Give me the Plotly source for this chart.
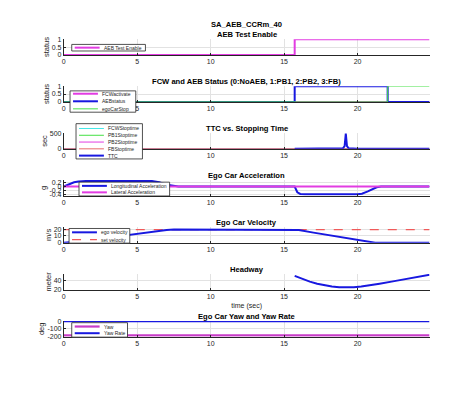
import plotly.graph_objects as go

W, H = 474, 395
OFF = 8  # page body margin of the html page

# ---------------- data ----------------
x_ticks = [0, 5, 10, 15, 20]
x_ticklabels = ["0", "5", "10", "15", "20"]
t_end = 24.9

# AEB test enable
t_enable = [0, 15.72, 15.72, 24.9]
aeb_enable = [0, 0, 1, 1]

# FCW / AEB status
t_status = [0, 15.72, 15.72, 22.05, 22.05, 24.9]
fcw_activate = [0, 0, 0, 0, 0, 0]
aeb_status = [0, 0, 1, 1, 0, 0]
t_carstop = [0, 22.05, 22.05, 24.9]
ego_car_stop = [0, 0, 1, 1]

# TTC vs stopping time
t_stoptime = [0, 5, 10, 15.72, 20, 24.9]
fcw_stoptime = [0.0, 2.4, 3.4, 3.4, 1.0, 0.0]
pb1_stoptime = [0.0, 1.8, 2.6, 2.6, 0.8, 0.0]
pb2_stoptime = [0.0, 1.4, 2.0, 2.0, 0.6, 0.0]
fb_stoptime = [0.0, 1.0, 1.4, 1.4, 0.4, 0.0]
t_ttc = [15.72, 16.5, 17.5, 18.5, 19.0, 19.12, 19.2, 19.28, 19.4, 20.0, 21.0, 22.0, 23.0, 24.9]
ttc = [3.5, 3.3, 3.6, 6.0, 18.0, 90.0, 500.0, 90.0, 18.0, 6.0, 3.0, 2.0, 1.5, 1.0]

# Ego car acceleration (g)
t_acc = [0, 0.3, 0.7, 1.0, 1.5, 6.0, 6.5, 7.0, 7.4, 7.8, 15.72, 15.8, 15.9, 16.1, 16.4,
         20.0, 20.3, 20.7, 21.0, 21.3, 21.6, 24.9]
long_acc = [0, 0.1, 0.2, 0.24, 0.26, 0.26, 0.2, 0.09, 0.03, 0, 0, -0.12, -0.28, -0.36, -0.38,
            -0.38, -0.35, -0.24, -0.12, -0.04, 0, 0]
t_lat = [0, 24.9]
lat_acc = [0, 0]

# Ego car velocity (m/s)
t_vel = [0, 0.5, 1, 2, 3, 4, 5, 6, 6.5, 7, 7.5, 15.72, 16, 17, 18, 19, 20, 20.5, 20.9, 21.2, 24.9]
ego_vel = [0, 0.6, 1.8, 4.6, 7.5, 10.4, 13.3, 16.2, 17.8, 18.9, 19.44, 19.44, 18.8, 15.0, 11.2,
           7.4, 3.6, 1.6, 0.4, 0, 0]
t_set = [0, 24.9]
set_vel = [19.44, 19.44]

# Headway (m)
t_head = [15.72, 16.25, 16.75, 17.25, 17.75, 18.25, 18.75, 19.25, 19.75, 20.25, 20.75,
          21.5, 22.5, 23.5, 24.9]
headway = [49.0, 42.5, 37.0, 32.5, 29.0, 26.5, 25.0, 24.5, 25.0, 26.5, 28.5, 32.5, 38.0,
           43.5, 51.3]

# Yaw and yaw rate (deg)
t_yaw = [0, 24.9]
yaw = [-183, -183]
yaw_rate = [0, 0]

# ---------------- styling ----------------
MAG = "#e23ce2"
BLUE = "#1818e0"
GREEN = "#44e044"
CYAN = "#44e8e8"
SALMON = "#e86a6a"
RED = "#f05a5a"
YAWMAG = "#c83cc8"
AXC = "#262626"
GRID = "#e2e2e2"
FONT = "Liberation Sans, Arial, sans-serif"

tops = [35.7, 83.5, 131.3, 179.1, 226.9, 274.7, 322.5]
AX_H = 16
X0, X1 = 62.0, 429.3


def px(x):
    return (x - OFF) / W


def py(y):
    return 1 - (y - OFF) / H


titles = ["AEB Test Enable", "FCW and AEB Status (0:NoAEB, 1:PB1, 2:PB2, 3:FB)",
          "TTC vs. Stopping Time", "Ego Car Acceleration", "Ego Car Velocity",
          "Headway", "Ego Car Yaw and Yaw Rate"]
ylabels = ["status", "status", "sec", "g", "m/s", "meter", "deg"]
yranges = [[0, 1], [0, 1], [0, 520], [-0.45, 0.31], [0, 23.3], [20, 53], [-200, 3]]
ytickvals = [[0, 0.5, 1], [0, 0.5, 1], [0, 500], [-0.4, -0.2, 0, 0.2], [0, 10, 20],
             [20, 40], [-200, -100, 0]]
yticktext = [["0", "0.5", "1"], ["0", "0.5", "1"], ["0", "500"],
             ["-0.4", "-0.2", "0", "0.2"], ["0", "10", "20"], ["20", "40"],
             ["-200", "-100", "0"]]

fig = go.Figure()

# (axis index, x, y, name, color, width, dash)
series = [
    (1, t_enable, aeb_enable, "AEB Test Enable", MAG, 2, "solid"),
    (2, t_status, fcw_activate, "FCWactivate", MAG, 2, "solid"),
    (2, t_status, aeb_status, "AEBstatus", BLUE, 2, "solid"),
    (2, t_carstop, ego_car_stop, "egoCarStop", GREEN, 1, "solid"),
    (3, t_stoptime, fcw_stoptime, "FCWStoptime", CYAN, 1, "solid"),
    (3, t_stoptime, pb1_stoptime, "PB1Stoptime", GREEN, 1, "solid"),
    (3, t_stoptime, pb2_stoptime, "PB2Stoptime", MAG, 1, "solid"),
    (3, t_stoptime, fb_stoptime, "FBStoptime", SALMON, 1, "solid"),
    (3, t_ttc, ttc, "TTC", BLUE, 2, "solid"),
    (4, t_acc, long_acc, "Longitudinal Acceleration", BLUE, 2, "solid"),
    (4, t_lat, lat_acc, "Lateral Acceleration", MAG, 2, "solid"),
    (5, t_set, set_vel, "set velocity", RED, 1.2, "dash"),
    (5, t_vel, ego_vel, "ego velocity", BLUE, 2, "solid"),
    (6, t_head, headway, "headway", BLUE, 2, "solid"),
    (7, t_yaw, yaw, "Yaw", YAWMAG, 2.2, "solid"),
    (7, t_yaw, yaw_rate, "Yaw Rate", BLUE, 2, "solid"),
]

for ax, xs, ys, name, col, wd, dash in series:
    sfx = "" if ax == 1 else str(ax)
    fig.add_trace(go.Scatter(x=xs, y=ys, mode="lines", name=name,
                             line=dict(color=col, width=wd, dash=dash),
                             xaxis="x" + sfx, yaxis="y" + sfx, showlegend=False))

layout = dict(width=W, height=H, margin=dict(l=0, r=0, t=0, b=0),
              paper_bgcolor="white", plot_bgcolor="white", showlegend=False,
              font=dict(family=FONT, color=AXC))

for i in range(7):
    k = "" if i == 0 else str(i + 1)
    top = tops[i]
    layout["xaxis" + k] = dict(
        domain=[px(X0), px(X1)], range=[0, t_end], anchor="y" + k,
        tickvals=x_ticks, ticktext=x_ticklabels, ticks="inside", ticklen=2,
        tickcolor=AXC, tickwidth=0.7,
        showline=True, linecolor=AXC, linewidth=0.8, showgrid=True,
        gridcolor=GRID, gridwidth=0.8, zeroline=False,
        tickfont=dict(size=7, color=AXC, family=FONT))
    layout["yaxis" + k] = dict(
        domain=[py(top + AX_H), py(top)], range=yranges[i], anchor="x" + k,
        tickvals=ytickvals[i], ticktext=yticktext[i], ticks="inside", ticklen=2,
        tickcolor=AXC, tickwidth=0.7,
        showline=True, linecolor=AXC, linewidth=0.8, showgrid=True,
        gridcolor=GRID, gridwidth=0.8, zeroline=False,
        tickfont=dict(size=7, color=AXC, family=FONT),
        title=dict(text=ylabels[i], font=dict(size=7.5, color=AXC, family=FONT),
                   standoff=1))

layout["xaxis6"]["title"] = dict(text="time (sec)", font=dict(size=7, color=AXC, family=FONT),
                                 standoff=4)
fig.update_layout(**layout)

# titles
fig.add_annotation(text="<b>SA_AEB_CCRm_40</b>", x=px((X0 + X1) / 2), y=py(21),
                   xref="paper", yref="paper", showarrow=False, xanchor="center",
                   yanchor="middle", font=dict(size=7.6, color="black", family=FONT))
for i, ttl in enumerate(titles):
    fig.add_annotation(text="<b>" + ttl + "</b>", x=px((X0 + X1) / 2), y=py(tops[i] - 4.8),
                       xref="paper", yref="paper", showarrow=False, xanchor="center",
                       yanchor="middle", font=dict(size=7.6, color="black", family=FONT))

# legends (box in px: x0, y0, x1, y1 ; row centres)
legend_specs = [
    ((70, 41, 144, 47.7), [44.3], ["AEB Test Enable"]),
    ((68.3, 88.3, 134.3, 110), [91.2, 98.9, 106.6], ["FCWactivate", "AEBstatus", "egoCarStop"]),
    ((74.3, 121.7, 141, 157.6), [126.6, 133.5, 140.4, 147.3, 154.2],
     ["FCWStoptime", "PB1Stoptime", "PB2Stoptime", "FBStoptime", "TTC"]),
    ((77.3, 181.2, 168.3, 195.3), [185.0, 191.6], ["Longitudinal Acceleration", "Lateral Acceleration"]),
    ((67.3, 228.4, 128.3, 243.3), [232.3, 239.8], ["ego velocity", "set velocity"]),
    ((70, 324.3, 126, 339), [328.2, 335.0], ["Yaw", "Yaw Rate"]),
]
style = {s[3]: (s[4], s[5], s[6]) for s in series}

for (bx0, by0, bx1, by1), rows, names in legend_specs:
    fig.add_shape(type="rect", xref="paper", yref="paper", x0=px(bx0), x1=px(bx1),
                  y0=py(by1), y1=py(by0), line=dict(color=AXC, width=0.8),
                  fillcolor="white", layer="above")
    for nm, yr in zip(names, rows):
        col, wd, dash = style[nm]
        fig.add_shape(type="line", xref="paper", yref="paper", x0=px(bx0 + 3), x1=px(bx0 + 28),
                      y0=py(yr), y1=py(yr), line=dict(color=col, width=wd, dash=dash),
                      layer="above")
        fig.add_annotation(text=nm, x=px(bx0 + 30.5), y=py(yr), xref="paper", yref="paper",
                           showarrow=False, xanchor="left", yanchor="middle",
                           font=dict(size=5, color=AXC, family=FONT))

fig.write_html("out.html")
